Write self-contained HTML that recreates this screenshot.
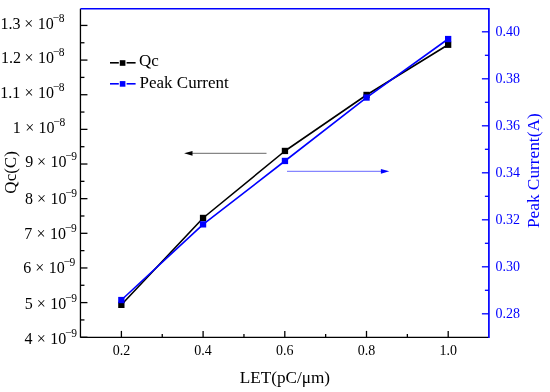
<!DOCTYPE html>
<html><head><meta charset="utf-8"><style>
html,body{margin:0;padding:0;background:#fff;width:550px;height:392px;overflow:hidden}
svg{display:block}
text{font-family:"Liberation Serif", "DejaVu Serif", serif;fill:#000}
</style></head><body>
<svg width="550" height="392" viewBox="0 0 550 392">
<line x1="80.45" y1="337.25" x2="87.45" y2="337.25" stroke="#000" stroke-width="1.3"/>
<line x1="80.45" y1="302.60" x2="87.45" y2="302.60" stroke="#000" stroke-width="1.3"/>
<line x1="80.45" y1="267.96" x2="87.45" y2="267.96" stroke="#000" stroke-width="1.3"/>
<line x1="80.45" y1="233.31" x2="87.45" y2="233.31" stroke="#000" stroke-width="1.3"/>
<line x1="80.45" y1="198.67" x2="87.45" y2="198.67" stroke="#000" stroke-width="1.3"/>
<line x1="80.45" y1="164.02" x2="87.45" y2="164.02" stroke="#000" stroke-width="1.3"/>
<line x1="80.45" y1="129.37" x2="87.45" y2="129.37" stroke="#000" stroke-width="1.3"/>
<line x1="80.45" y1="94.73" x2="87.45" y2="94.73" stroke="#000" stroke-width="1.3"/>
<line x1="80.45" y1="60.08" x2="87.45" y2="60.08" stroke="#000" stroke-width="1.3"/>
<line x1="80.45" y1="25.44" x2="87.45" y2="25.44" stroke="#000" stroke-width="1.3"/>
<line x1="80.45" y1="319.93" x2="84.45" y2="319.93" stroke="#000" stroke-width="1.3"/>
<line x1="80.45" y1="285.28" x2="84.45" y2="285.28" stroke="#000" stroke-width="1.3"/>
<line x1="80.45" y1="250.63" x2="84.45" y2="250.63" stroke="#000" stroke-width="1.3"/>
<line x1="80.45" y1="215.99" x2="84.45" y2="215.99" stroke="#000" stroke-width="1.3"/>
<line x1="80.45" y1="181.34" x2="84.45" y2="181.34" stroke="#000" stroke-width="1.3"/>
<line x1="80.45" y1="146.70" x2="84.45" y2="146.70" stroke="#000" stroke-width="1.3"/>
<line x1="80.45" y1="112.05" x2="84.45" y2="112.05" stroke="#000" stroke-width="1.3"/>
<line x1="80.45" y1="77.40" x2="84.45" y2="77.40" stroke="#000" stroke-width="1.3"/>
<line x1="80.45" y1="42.76" x2="84.45" y2="42.76" stroke="#000" stroke-width="1.3"/>
<line x1="121.40" y1="337.4" x2="121.40" y2="330.90" stroke="#000" stroke-width="1.3"/>
<line x1="203.10" y1="337.4" x2="203.10" y2="330.90" stroke="#000" stroke-width="1.3"/>
<line x1="284.80" y1="337.4" x2="284.80" y2="330.90" stroke="#000" stroke-width="1.3"/>
<line x1="366.50" y1="337.4" x2="366.50" y2="330.90" stroke="#000" stroke-width="1.3"/>
<line x1="448.20" y1="337.4" x2="448.20" y2="330.90" stroke="#000" stroke-width="1.3"/>
<line x1="162.25" y1="337.4" x2="162.25" y2="333.90" stroke="#000" stroke-width="1.3"/>
<line x1="243.95" y1="337.4" x2="243.95" y2="333.90" stroke="#000" stroke-width="1.3"/>
<line x1="325.65" y1="337.4" x2="325.65" y2="333.90" stroke="#000" stroke-width="1.3"/>
<line x1="407.35" y1="337.4" x2="407.35" y2="333.90" stroke="#000" stroke-width="1.3"/>
<line x1="488.9" y1="313.80" x2="481.90" y2="313.80" stroke="#0000ff" stroke-width="1.3"/>
<line x1="488.9" y1="266.80" x2="481.90" y2="266.80" stroke="#0000ff" stroke-width="1.3"/>
<line x1="488.9" y1="219.80" x2="481.90" y2="219.80" stroke="#0000ff" stroke-width="1.3"/>
<line x1="488.9" y1="172.80" x2="481.90" y2="172.80" stroke="#0000ff" stroke-width="1.3"/>
<line x1="488.9" y1="125.80" x2="481.90" y2="125.80" stroke="#0000ff" stroke-width="1.3"/>
<line x1="488.9" y1="78.80" x2="481.90" y2="78.80" stroke="#0000ff" stroke-width="1.3"/>
<line x1="488.9" y1="31.80" x2="481.90" y2="31.80" stroke="#0000ff" stroke-width="1.3"/>
<line x1="488.9" y1="290.30" x2="484.90" y2="290.30" stroke="#0000ff" stroke-width="1.3"/>
<line x1="488.9" y1="243.30" x2="484.90" y2="243.30" stroke="#0000ff" stroke-width="1.3"/>
<line x1="488.9" y1="196.30" x2="484.90" y2="196.30" stroke="#0000ff" stroke-width="1.3"/>
<line x1="488.9" y1="149.30" x2="484.90" y2="149.30" stroke="#0000ff" stroke-width="1.3"/>
<line x1="488.9" y1="102.30" x2="484.90" y2="102.30" stroke="#0000ff" stroke-width="1.3"/>
<line x1="488.9" y1="55.30" x2="484.90" y2="55.30" stroke="#0000ff" stroke-width="1.3"/>
<line x1="80.45" y1="8.75" x2="80.45" y2="337.4" stroke="#000" stroke-width="1.3"/>
<line x1="80.45" y1="337.4" x2="488.9" y2="337.4" stroke="#000" stroke-width="1.3"/>
<line x1="80.45" y1="8.75" x2="488.9" y2="8.75" stroke="#0000ff" stroke-width="1.5"/>
<line x1="488.9" y1="8.0" x2="488.9" y2="338.04999999999995" stroke="#0000ff" stroke-width="1.7"/>
<polyline points="121.4,304.8 203.1,218.0 284.9,151.0 366.5,95.0 448.1,44.8" fill="none" stroke="#000" stroke-width="1.6" stroke-linejoin="round"/>
<rect x="118.2" y="301.7" width="6.3" height="6.3" fill="#000"/>
<rect x="199.9" y="214.8" width="6.3" height="6.3" fill="#000"/>
<rect x="281.8" y="147.8" width="6.3" height="6.3" fill="#000"/>
<rect x="363.4" y="91.8" width="6.3" height="6.3" fill="#000"/>
<rect x="445.0" y="41.6" width="6.3" height="6.3" fill="#000"/>
<polyline points="121.4,300.0 203.1,224.4 284.9,161.0 366.5,97.6 448.1,39.0" fill="none" stroke="#0000ff" stroke-width="1.6" stroke-linejoin="round"/>
<rect x="118.2" y="296.9" width="6.3" height="6.3" fill="#0000ff"/>
<rect x="199.9" y="221.2" width="6.3" height="6.3" fill="#0000ff"/>
<rect x="281.8" y="157.8" width="6.3" height="6.3" fill="#0000ff"/>
<rect x="363.4" y="94.4" width="6.3" height="6.3" fill="#0000ff"/>
<rect x="445.0" y="35.9" width="6.3" height="6.3" fill="#0000ff"/>
<line x1="192" y1="153.3" x2="266.5" y2="153.3" stroke="#000" stroke-width="0.6"/>
<polygon points="184.1,153.3 192.5,150.9 192.5,155.7" fill="#000"/>
<line x1="287" y1="171.3" x2="381" y2="171.3" stroke="#0000ff" stroke-width="0.6"/>
<polygon points="389.3,171.3 380.9,168.9 380.9,173.7" fill="#0000ff"/>
<line x1="110" y1="62.8" x2="118.8" y2="62.8" stroke="#000" stroke-width="1.6"/>
<line x1="126.6" y1="62.8" x2="135.6" y2="62.8" stroke="#000" stroke-width="1.6"/>
<rect x="119.8" y="60.2" width="5.6" height="5.6" fill="#000"/>
<line x1="110" y1="83.8" x2="118.8" y2="83.8" stroke="#0000ff" stroke-width="1.6"/>
<line x1="126.6" y1="83.8" x2="135.6" y2="83.8" stroke="#0000ff" stroke-width="1.6"/>
<rect x="119.8" y="81.1" width="5.6" height="5.6" fill="#0000ff"/>
<text x="139" y="66.3" font-size="17">Qc</text>
<text x="139.5" y="87.6" font-size="17">Peak Current</text>
<text y="29.00" font-size="16"><tspan x="0.60">1.3</tspan><tspan x="24.33">×</tspan><tspan x="37.80">10</tspan><tspan dx="-1" dy="-7.8" font-size="11.5">−</tspan><tspan dx="-0.53" dy="0.3" font-size="11.5">8</tspan></text>
<text y="63.00" font-size="16"><tspan x="0.88">1.2</tspan><tspan x="24.43">×</tspan><tspan x="37.90">10</tspan><tspan dx="-1" dy="-7.8" font-size="11.5">−</tspan><tspan dx="-0.53" dy="0.3" font-size="11.5">8</tspan></text>
<text y="98.00" font-size="16"><tspan x="0.28">1.1</tspan><tspan x="24.43">×</tspan><tspan x="37.90">10</tspan><tspan dx="-1" dy="-7.8" font-size="11.5">−</tspan><tspan dx="-0.53" dy="0.3" font-size="11.5">8</tspan></text>
<text y="133.00" font-size="16"><tspan x="12.63">1</tspan><tspan x="25.13">×</tspan><tspan x="38.60">10</tspan><tspan dx="-1" dy="-7.8" font-size="11.5">−</tspan><tspan dx="-0.53" dy="0.3" font-size="11.5">8</tspan></text>
<text y="167.00" font-size="16"><tspan x="25.27">9</tspan><tspan x="36.93">×</tspan><tspan x="50.40">10</tspan><tspan dx="-1" dy="-7.8" font-size="11.5">−</tspan><tspan dx="-0.53" dy="0.3" font-size="11.5">9</tspan></text>
<text y="204.00" font-size="16"><tspan x="25.10">8</tspan><tspan x="36.93">×</tspan><tspan x="50.40">10</tspan><tspan dx="-1" dy="-7.8" font-size="11.5">−</tspan><tspan dx="-0.53" dy="0.3" font-size="11.5">9</tspan></text>
<text y="239.00" font-size="16"><tspan x="24.15">7</tspan><tspan x="36.48">×</tspan><tspan x="49.95">10</tspan><tspan dx="-1" dy="-7.8" font-size="11.5">−</tspan><tspan dx="-0.53" dy="0.3" font-size="11.5">9</tspan></text>
<text y="273.00" font-size="16"><tspan x="23.30">6</tspan><tspan x="35.18">×</tspan><tspan x="48.65">10</tspan><tspan dx="-1" dy="-7.8" font-size="11.5">−</tspan><tspan dx="-0.53" dy="0.3" font-size="11.5">9</tspan></text>
<text y="309.00" font-size="16"><tspan x="24.65">5</tspan><tspan x="36.83">×</tspan><tspan x="50.30">10</tspan><tspan dx="-1" dy="-7.8" font-size="11.5">−</tspan><tspan dx="-0.53" dy="0.3" font-size="11.5">9</tspan></text>
<text y="344.00" font-size="16"><tspan x="24.57">4</tspan><tspan x="36.83">×</tspan><tspan x="50.30">10</tspan><tspan dx="-1" dy="-7.8" font-size="11.5">−</tspan><tspan dx="-0.53" dy="0.3" font-size="11.5">9</tspan></text>
<text x="121.4" y="355" font-size="14" text-anchor="middle">0.2</text>
<text x="203.1" y="355" font-size="14" text-anchor="middle">0.4</text>
<text x="284.8" y="355" font-size="14" text-anchor="middle">0.6</text>
<text x="366.5" y="355" font-size="14" text-anchor="middle">0.8</text>
<text x="448.2" y="355" font-size="14" text-anchor="middle">1.0</text>
<text x="495.5" y="318.2" font-size="14" style="fill:#0000ff">0.28</text>
<text x="495.5" y="271.2" font-size="14" style="fill:#0000ff">0.30</text>
<text x="495.5" y="224.2" font-size="14" style="fill:#0000ff">0.32</text>
<text x="495.5" y="177.2" font-size="14" style="fill:#0000ff">0.34</text>
<text x="495.5" y="130.2" font-size="14" style="fill:#0000ff">0.36</text>
<text x="495.5" y="83.2" font-size="14" style="fill:#0000ff">0.38</text>
<text x="495.5" y="36.2" font-size="14" style="fill:#0000ff">0.40</text>
<text x="284.9" y="382.8" font-size="17.2" text-anchor="middle">LET(pC/μm)</text>
<text transform="translate(15.9,172.4) rotate(-90)" font-size="17" text-anchor="middle">Qc(C)</text>
<text transform="translate(539.3,170.7) rotate(-90)" font-size="17.3" text-anchor="middle" style="fill:#0000ff">Peak Current(A)</text>
</svg>
</body></html>
